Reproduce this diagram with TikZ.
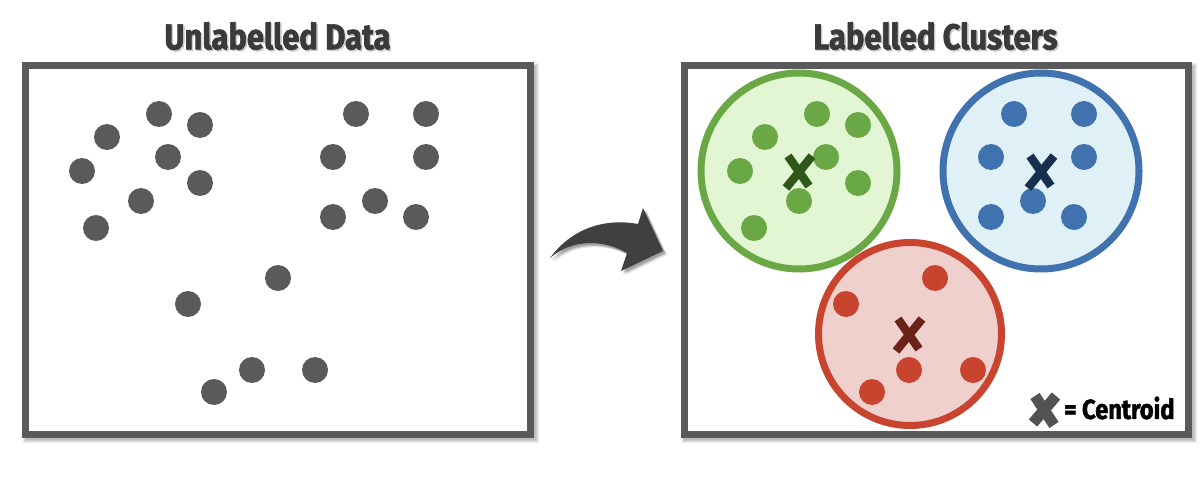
\documentclass[tikz,border=0pt]{standalone}
\usepackage{fontspec}
\newfontfamily\handfont[FakeStretch=0.86,FakeBold=1.8]{Fira Sans Bold}
\definecolor{framegrey}{HTML}{5A5A5A}
\definecolor{arrowgrey}{HTML}{404040}
\definecolor{titlegrey}{HTML}{3A3A3A}
\definecolor{gfill}{HTML}{E2F6D3}\definecolor{gline}{HTML}{6AA845}\definecolor{gdark}{HTML}{2F5719}
\definecolor{bfill}{HTML}{E0F0F7}\definecolor{bline}{HTML}{3F72AE}\definecolor{bdark}{HTML}{17304F}
\definecolor{rfill}{HTML}{EFD0CD}\definecolor{rline}{HTML}{C8442F}\definecolor{rdark}{HTML}{6C2317}
\tikzset{
  framebox/.style={draw=framegrey,line width=7pt,fill=white},
  softshadow/.style={draw=black,opacity=0.07,fill=none},
  clusterline/.style={line width=7pt},
  xstroke/.style={line width=8.5pt},
  titletext/.style={font=\handfont\fontsize{36}{36}\selectfont,text=titlegrey,inner sep=0pt},
  titleshadow/.style={font=\handfont\fontsize{36}{36}\selectfont,text=black,opacity=0.16,inner sep=0pt},
}
\newcommand{\softframe}[4]{%
  \foreach \w in {11,9.5,8,6.5}{
    \draw[softshadow,line width=\w pt] (#1+3,#2+3) rectangle (#3+3,#4+3);}
  \draw[framebox] (#1,#2) rectangle (#3,#4);}
\newcommand{\centroid}[3]{%
  \draw[xstroke,draw=#3] (#1-13,#2+17) -- (#1+13,#2-15);
  \draw[xstroke,draw=#3] (#1-11,#2-15) -- (#1+10,#2+15);}
\begin{document}
\begin{tikzpicture}[x=1pt,y=-1pt]
\useasboundingbox (0,0) rectangle (1200,500);
\fill[white] (0,0) rectangle (1200,500);
% titles
\node[titleshadow] at (279,37.5) {Unlabelled Data};
\node[titleshadow] at (937,37.5) {Labelled Clusters};
\node[titletext] (t1) at (277.5,36) {Unlabelled Data};
\node[titletext] (t2) at (935.5,36) {Labelled Clusters};
% frames
\softframe{25.5}{66}{530}{434}
\softframe{684}{66}{1188}{434}
% grey points
\foreach \x/\y in {107/137,159/114,200/125,168/157,82/171,200/183,141/201,96/228,
  356/114,426/114,333/157,426/157,333/217,375/201,416/217,
  278/278,188/304,252/370,315/370,214/392}
  \fill[framegrey] (\x,\y) circle (13);
% arrow
\foreach \d/\o in {4/0.10,3/0.14,2/0.18}{
  \fill[black,opacity=\o,xshift=\d pt,yshift=-\d pt]
    (550,258) .. controls (572,228) and (605,218) .. (638,224) -- (643,208) -- (663,251) -- (621,271) -- (627,253)
    .. controls (605,240) and (573,238) .. (550,258) -- cycle;}
\fill[arrowgrey]
    (550,258) .. controls (572,228) and (605,218) .. (638,224) -- (643,208) -- (663,251) -- (621,271) -- (627,253)
    .. controls (605,240) and (573,238) .. (550,258) -- cycle;
% green
\draw[clusterline,draw=gline,fill=gfill] (799,171) circle (98);
\foreach \x/\y in {765/137,817/114,858/125,826/157,740/171,858/183,799/201,754/228}
  \fill[gline] (\x,\y) circle (13);
\centroid{799}{171}{gdark}
% blue
\draw[clusterline,draw=bline,fill=bfill] (1041,171) circle (98);
\foreach \x/\y in {1014/114,1084/114,991/157,1084/157,991/217,1033/201,1074/217}
  \fill[bline] (\x,\y) circle (13);
\centroid{1041}{171}{bdark}
% red
\draw[clusterline,draw=rline,fill=rfill] (910,334) circle (91.5);
\foreach \x/\y in {935/278,846/304,909/370,973/370,872/392}
  \fill[rline] (\x,\y) circle (13);
\centroid{909}{334}{rdark}
% legend
\draw[line width=11pt,draw=arrowgrey!90!white] (1033,423) -- (1056,396);
\draw[line width=11pt,draw=arrowgrey!90!white] (1035,396) -- (1054,425);
\node[font=\handfont\fontsize{27.5}{27.5}\selectfont,text=black,inner sep=0pt,anchor=west] (leg) at (1064,408) {= Centroid};
\end{tikzpicture}
\end{document}
